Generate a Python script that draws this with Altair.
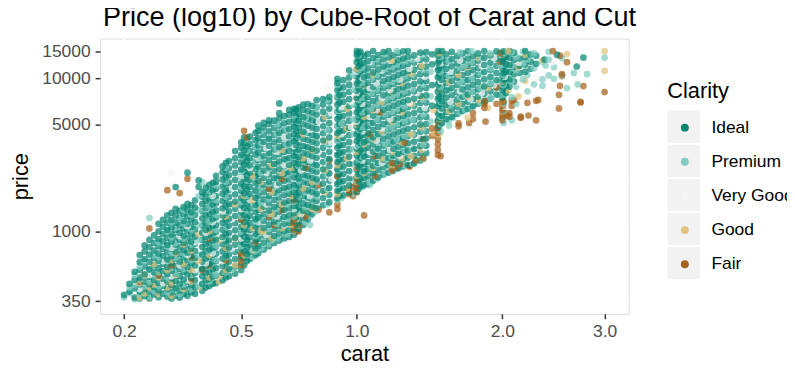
import altair as alt
import pandas as pd
import math

# ---------------- data (carat -> list of prices) ----------------
CUT_ORDER = ["Ideal", "Premium", "Very Good", "Good", "Fair"]
CUT_COLORS = ["#018571", "#80CDC1", "#F5F5F5", "#DFC27D", "#A6611A"]

X_BREAKS = [0.2, 0.5, 1.0, 2.0, 3.0]
Y_BREAKS = [350, 1000, 5000, 10000, 15000]

IDEAL = {
    0.20: [385],
    0.21: [405, 455],
    0.22: [370, 425, 485, 545],
    0.23: [365, 405, 450, 500, 560, 630, 700],
    0.24: [378, 420, 470, 525, 590, 660, 740, 810],
    0.25: [366, 405, 452, 505, 565, 632, 705, 790, 880],
    0.26: [388, 432, 482, 540, 600, 672, 750, 840, 940],
    0.27: [372, 412, 460, 515, 575, 642, 715, 800, 890, 1000, 1120],
    0.28: [392, 440, 490, 550, 615, 690, 770, 860, 960, 1070, 1190],
    0.29: [376, 420, 470, 526, 585, 655, 730, 815, 910, 1020, 1140, 1270],
    0.30: [365, 400, 445, 495, 555, 620, 690, 770, 860, 955, 1065, 1185, 1320],
    0.31: [380, 425, 475, 530, 590, 660, 735, 820, 915, 1020, 1140, 1270, 1400, 1945],
    0.32: [370, 410, 455, 510, 570, 635, 710, 790, 880, 980, 1095, 1220, 1360],
    0.33: [390, 435, 485, 545, 605, 675, 755, 840, 935, 1045, 1165, 1300, 1440],
    0.34: [380, 420, 470, 525, 585, 650, 725, 810, 900, 1005, 1120, 1250, 1390, 1510, 2415],
    0.35: [400, 445, 500, 555, 620, 690, 770, 860, 960, 1070, 1190, 1330, 1480],
    0.36: [392, 432, 480, 535, 600, 670, 745, 830, 925, 1030, 1150, 1280, 1430, 1590],
    0.37: [1950, 2150],
    0.38: [410, 455, 510, 570, 635, 705, 790, 880, 980, 1090, 1215, 1355, 1510, 1680, 1800],
    0.39: [430, 480, 535, 595, 665, 740, 825, 920, 1025, 1140, 1270, 1415, 1580, 1760, 1930],
    0.40: [440, 490, 545, 610, 680, 760, 845, 940, 1050, 1170, 1300, 1450, 1620, 1800, 2010],
    0.41: [455, 505, 565, 630, 700, 780, 870, 970, 1080, 1205, 1340, 1495, 1665, 1855, 2070],
    0.42: [460, 515, 575, 640, 715, 795, 885, 990, 1100, 1230, 1370, 1525, 1700, 1895, 2110, 2300],
    0.44: [480, 535, 595, 665, 740, 825, 920, 1025, 1140, 1270, 1415, 1580, 1760, 1960, 2180, 2430, 2650],
    0.45: [500, 555, 620, 690, 770, 860, 955, 1065, 1185, 1320, 1470, 1640, 1825, 2035, 2265, 2520, 2800],
    0.46: [510, 570, 635, 705, 785, 875, 975, 1090, 1210, 1350, 1505, 1675, 1865, 2080, 2320, 2580, 2870],
    0.48: [530, 590, 660, 735, 820, 910, 1015, 1130, 1260, 1405, 1565, 1745, 1945, 2165, 2410, 2690, 2995, 3340],
    0.50: [560, 625, 695, 775, 860, 960, 1070, 1190, 1330, 1480, 1650, 1835, 2045, 2280, 2540, 2830, 3150, 3510, 3800],
    0.51: [600, 670, 745, 830, 925, 1030, 1150, 1280, 1425, 1590, 1770, 1970, 2195, 2445, 2725, 3035, 3380, 3765, 4100],
    0.52: [640, 710, 790, 880, 980, 1095, 1220, 1360, 1515, 1685, 1880, 2095, 2330, 2600, 2895, 3225, 3590, 4000],
    0.53: [660, 735, 820, 915, 1020, 1135, 1265, 1410, 1570, 1750, 1950, 2170, 2420, 2695, 3000, 3345, 3725, 4150],
    0.55: [700, 780, 870, 965, 1075, 1200, 1335, 1490, 1660, 1850, 2060, 2295, 2555, 2850, 3175, 3535, 3940, 4390],
    0.56: [720, 800, 895, 995, 1110, 1235, 1380, 1535, 1710, 1905, 2125, 2365, 2635, 2935, 3270, 3645, 4060, 4520, 4900],
    0.58: [760, 845, 940, 1050, 1170, 1300, 1450, 1615, 1800, 2005, 2235, 2490, 2775, 3090, 3445, 3835, 4275, 4760, 5100],
    0.60: [800, 890, 990, 1105, 1230, 1370, 1525, 1700, 1895, 2110, 2350, 2620, 2920, 3250, 3620, 4035, 4495, 5010, 5300],
    0.62: [840, 935, 1040, 1160, 1295, 1440, 1605, 1790, 1995, 2220, 2475, 2755, 3070, 3420, 3810, 4245, 4730, 5270],
    0.64: [870, 970, 1080, 1205, 1340, 1495, 1665, 1855, 2065, 2300, 2565, 2855, 3180, 3545, 3950, 4400, 4900, 5460, 5900, 6830],
    0.66: [900, 1000, 1115, 1245, 1385, 1545, 1720, 1915, 2135, 2380, 2650, 2950, 3290, 3665, 4080, 4550, 5065, 5645],
    0.68: [920, 1025, 1140, 1270, 1415, 1580, 1760, 1960, 2180, 2430, 2710, 3015, 3360, 3745, 4170, 4650, 5180, 5770, 6200],
    0.70: [950, 1060, 1180, 1315, 1465, 1630, 1815, 2025, 2255, 2510, 2800, 3115, 3470, 3870, 4310, 4800, 5350, 5960, 6300],
    0.71: [1000, 1115, 1240, 1385, 1540, 1715, 1910, 2130, 2375, 2645, 2945, 3280, 3655, 4070, 4535, 5055, 5630, 6270],
    0.72: [1040, 1160, 1290, 1440, 1600, 1785, 1990, 2215, 2470, 2750, 3065, 3415, 3805, 4240, 4720, 5260, 5860, 6450],
    0.74: [1100, 1225, 1365, 1520, 1695, 1885, 2100, 2340, 2610, 2905, 3240, 3605, 4020, 4475, 4990, 5555, 6190, 6700],
    0.76: [1200, 1335, 1490, 1660, 1850, 2060, 2295, 2555, 2850, 3175, 3535, 3940, 4390, 4890, 5445, 6070, 6760],
    0.78: [1300, 1450, 1615, 1800, 2005, 2235, 2490, 2770, 3090, 3440, 3835, 4270, 4760, 5300, 5905, 6580],
    0.80: [1420, 1580, 1760, 1960, 2185, 2435, 2710, 3020, 3365, 3750, 4175, 4655, 5185, 5775, 6435, 7170],
    0.83: [1480, 1650, 1840, 2050, 2280, 2540, 2830, 3155, 3515, 3915, 4365, 4860, 5415, 6035, 6720, 7300],
    0.86: [1550, 1730, 1925, 2145, 2390, 2660, 2965, 3305, 3680, 4100, 4570, 5090, 5670, 6320, 7040, 7550],
    0.90: [1650, 1840, 2050, 2285, 2545, 2835, 3160, 3520, 3920, 4370, 4865, 5420, 6040, 6730, 7500, 8350, 9300, 9900],
    0.91: [1700, 1895, 2110, 2350, 2620, 2920, 3250, 3625, 4035, 4500, 5010, 5580, 6220, 6930, 7720, 8600],
    0.93: [1720, 1915, 2135, 2380, 2650, 2950, 3290, 3665, 4080, 4550, 5070, 5650, 6290, 7010, 7810, 8700, 9690],
    0.96: [1790, 1995, 2220, 2475, 2760, 3075, 3425, 3815, 4250, 4735, 5275, 5880, 6550, 7295, 8130, 9055, 10090, 11240],
    1.00: [1820, 2030, 2260, 2520, 2805, 3125, 3480, 3880, 4320, 4815, 5365, 5980, 6660, 7420, 8265, 9210, 10260, 11430, 12735, 14190, 15000],
    1.01: [1900, 2115, 2360, 2625, 2925, 3260, 3630, 4045, 4505, 5020, 5595, 6230, 6945, 7735, 8620, 9600, 10700, 11920, 13280, 14600],
    1.02: [1960, 2185, 2435, 2710, 3020, 3365, 3750, 4180, 4655, 5185, 5780, 6440, 7170, 7990, 8905, 9920, 11050, 12310, 13720, 14900],
    1.04: [2000, 2230, 2480, 2765, 3080, 3430, 3825, 4260, 4745, 5290, 5890, 6565, 7315, 8150, 9080, 10115, 11270, 12560, 13990],
    1.06: [2050, 2285, 2545, 2835, 3160, 3520, 3920, 4370, 4870, 5425, 6045, 6735, 7505, 8360, 9315, 10380, 11565, 12885, 14360],
    1.09: [2150, 2395, 2670, 2975, 3315, 3690, 4115, 4585, 5105, 5690, 6340, 7065, 7870, 8770, 9770, 10885, 12130, 13515, 15000],
    1.12: [2250, 2510, 2795, 3115, 3470, 3865, 4305, 4800, 5345, 5955, 6635, 7395, 8240, 9180, 10225, 11395, 12695, 14145],
    1.15: [2350, 2620, 2920, 3250, 3625, 4035, 4500, 5010, 5585, 6220, 6930, 7725, 8605, 9590, 10680, 11900, 13260, 14775],
    1.18: [2420, 2700, 3005, 3350, 3730, 4160, 4630, 5160, 5750, 6405, 7140, 7955, 8860, 9875, 11000, 12260, 13660, 15000],
    1.21: [2500, 2785, 3105, 3460, 3855, 4295, 4785, 5330, 5940, 6620, 7375, 8215, 9155, 10200, 11365, 12660, 14110],
    1.24: [2580, 2875, 3205, 3570, 3980, 4430, 4940, 5500, 6130, 6830, 7610, 8480, 9450, 10530, 11730, 13070, 14560],
    1.27: [2650, 2955, 3290, 3665, 4085, 4550, 5070, 5650, 6295, 7010, 7815, 8705, 9700, 10810, 12040, 13420, 14950],
    1.30: [2720, 3030, 3375, 3760, 4190, 4670, 5200, 5795, 6455, 7195, 8015, 8930, 9950, 11085, 12350, 13760, 15000],
    1.34: [2780, 3100, 3450, 3845, 4285, 4775, 5320, 5925, 6605, 7355, 8200, 9135, 10175, 11340, 12635, 14075],
    1.38: [2900, 3230, 3600, 4010, 4470, 4980, 5545, 6180, 6885, 7670, 8545, 9520, 10610, 11820, 13170, 14670],
    1.42: [3250, 3620, 4035, 4495, 5010, 5580, 6220, 6930, 7720, 8600, 9580, 10675, 11895, 13250, 14760],
    1.46: [6600, 9000, 12300, 14300],
    1.50: [4750, 5290, 5895, 6570, 7320, 8155, 9085, 10125, 11280, 12565, 14000, 15000],
    1.51: [4900, 5460, 6085, 6780, 7555, 8415, 9375, 10445, 11640, 12965, 14450],
    1.53: [5100, 5680, 6330, 7050, 7855, 8750, 9750, 10865, 12105, 13485, 15000],
    1.56: [5400, 6015, 6700, 7465, 8320, 9270, 10325, 11505, 12815, 14280],
    1.60: [5600, 6240, 6950, 7745, 8625, 9610, 10710, 11930, 13290, 14810],
    1.64: [5850, 6515, 7260, 8090, 9010, 10040, 11185, 12460, 13885],
    1.68: [6100, 6795, 7570, 8435, 9395, 10470, 11665, 12995, 14480],
    1.72: [6300, 7020, 7820, 8710, 9705, 10815, 12045, 13420, 14950],
    1.76: [6550, 7300, 8130, 9060, 10090, 11245, 12525, 13955],
    1.80: [6800, 7575, 8440, 9405, 10475, 11670, 13005, 14490],
    1.85: [7100, 7910, 8815, 9820, 10940, 12185, 13580, 15000],
    1.90: [7350, 8190, 9125, 10165, 11325, 12615, 14055],
    1.95: [7800, 8690, 9680, 10785, 12015, 13385, 14910],
    2.00: [7500, 8355, 9310, 10370, 11555, 12870, 14340],
    2.01: [7000, 7800, 8690, 9680, 10785, 12015, 13385, 14910],
    2.03: [8000, 8915, 9930, 11065, 12325, 13730],
    2.06: [8800, 9800, 10920, 12170, 13555, 15000],
    2.10: [9500, 10585, 11790, 13135, 14635],
    2.15: [10800, 12030, 13400],
    2.20: [11000, 12250, 13650, 15000],
    2.25: [11500, 12800, 14260],
    2.30: [12400, 14000],
    2.38: [13200],
    2.50: [14200],
    2.70: [11900],
    2.77: [13600],
}

PREMIUM = {
    0.20: [372], 0.21: [395, 430], 0.22: [360, 450, 520], 0.23: [390, 480, 590],
    0.24: [440, 640], 0.25: [372, 470, 560, 1220], 0.26: [410, 520, 700],
    0.27: [440, 540, 680, 850], 0.29: [400, 500, 640, 800, 1000],
    0.30: [460, 580, 730, 920, 1150], 0.31: [420, 530, 670, 840, 1060],
    0.32: [390, 1230], 0.33: [450, 570, 720, 900, 1130, 1380],
    0.35: [420, 520, 650, 820, 1030, 1290], 0.37: [440, 560, 700, 880, 1100, 1380, 1700],
    0.38: [2100], 0.40: [470, 590, 740, 930, 1170, 1460, 1830],
    0.42: [520, 650, 810, 1020, 1280, 1600, 2000],
    0.45: [540, 680, 850, 1070, 1340, 1680, 2100, 2600], 0.47: [560, 760, 1500],
    0.50: [640, 800, 1000, 1250, 1560, 1960, 2450, 3070],
    0.52: [700, 870, 1090, 1370, 1710, 2140, 2680, 3350, 4000], 0.54: [680, 760],
    0.55: [740, 930, 1160, 1450, 1820, 2280, 2850, 3570],
    0.57: [780, 980, 1230, 1540, 1930, 2410, 3020, 3780, 4500],
    0.60: [830, 1040, 1300, 1630, 2040, 2550, 3190, 3990], 0.61: [870],
    0.63: [900, 1120, 1400, 1760, 2200, 2750, 3440, 4300, 5000],
    0.67: [960, 1200, 1500, 1880, 2350, 2940, 3680, 4600],
    0.70: [1000, 1250, 1560, 1950, 2440, 3060, 3830, 4790, 5700],
    0.72: [1090, 1360, 1700, 2130, 2660, 3330, 4170, 5200],
    0.75: [1150, 1440, 1800, 2250, 2820, 3530, 4410, 5520], 0.77: [1100, 1250],
    0.80: [1350, 1690, 2110, 2640, 3300, 4130, 5170, 6470],
    0.85: [1500, 1880, 2350, 2940, 3680, 4600, 5760, 7200],
    0.90: [1600, 2000, 2500, 3130, 3920, 4900, 6130, 7670, 9000],
    0.92: [1650, 2070, 2590, 3240, 4050, 5070, 6340],
    0.98: [1750, 2190, 2740, 3430, 4290, 5370, 6720, 8400, 10500],
    1.01: [1880, 2350, 2940, 3680, 4600, 5760, 7200, 9000, 11300, 14100],
    1.03: [1950, 2440, 3050, 3820, 4780, 5980, 7480, 9360, 11700], 1.07: [2000, 2080],
    1.08: [2080, 2600, 3250, 4070, 5090, 6370, 7970, 9970, 12470],
    1.11: [2200, 2750, 3440, 4300, 5380, 6730, 8420, 10530, 13200],
    1.16: [2380, 2980, 3730, 4660, 5830, 7300, 9130, 11420, 14290],
    1.20: [2460, 3080, 3850, 4820, 6030, 7540, 9440, 11800],
    1.23: [2560, 3200, 4000, 5010, 6270, 7840, 9810, 12270, 15000],
    1.28: [2680, 3350, 4190, 5250, 6560, 8210, 10270, 12850],
    1.33: [2750, 3440, 4300, 5380, 6730, 8420, 10540, 13180],
    1.40: [2950, 3700, 4620, 5780, 7230, 9050, 11320, 14160],
    1.45: [5200, 7600, 11000], 1.52: [4500, 5000, 5600, 7000, 8750, 10950, 13700],
    1.58: [4900, 5300, 6630, 8300, 10380, 12990], 1.61: [5500],
    1.66: [6000, 7500, 9400, 11760, 14700], 1.70: [6200, 7760, 9700, 12140],
    1.75: [6500, 8130, 10170, 12730, 15000], 1.82: [6900, 8630, 10800, 13510],
    1.90: [7400, 9260, 11590, 14500], 1.98: [7700, 9640, 12060],
    2.01: [5100, 5500, 6100, 6800, 7800, 9000, 10500, 12300, 14600],
    2.08: [5300, 7500, 9500, 12000, 14800], 2.12: [6800, 8800, 11200, 13800],
    2.18: [9800, 12500, 14900], 2.22: [8200, 10500, 13300], 2.28: [9100, 11600, 14500],
    2.36: [8900, 9800, 12800], 2.39: [12100], 2.42: [10400, 13200, 14800],
    2.47: [9900, 11800], 2.55: [10400, 13500], 2.60: [8600], 2.67: [10800],
    2.71: [9100], 2.81: [10600], 3.00: [13600],
}

VERY_GOOD = {
    0.23: [420], 0.25: [520], 0.28: [460, 640], 0.30: [510, 780, 2415], 0.32: [600, 930],
    0.34: [480, 700, 1080], 0.36: [560, 850], 0.39: [620, 980, 1400], 0.41: [720, 1150, 1700],
    0.44: [640, 900, 1350], 0.47: [780, 1200, 1900], 0.50: [900, 1400, 2300],
    0.53: [1000, 1600, 2600], 0.56: [1150, 1900, 3000], 0.59: [950, 1500, 2400, 3500],
    0.63: [1250, 2000, 3300], 0.66: [1100, 1700, 2700, 4100], 0.70: [1400, 2200, 3600],
    0.73: [1300, 2500, 4000], 0.77: [1700, 2900, 4600], 0.81: [2000, 3300, 5200],
    0.85: [8400], 0.87: [2200, 3800, 5900], 0.92: [2600, 4300, 6500], 0.97: [2400, 4800, 7000],
    1.00: [2600, 3600, 5200, 8000, 11000], 1.03: [2900, 4500, 6800, 10000],
    1.07: [3300, 5600, 8600, 12800], 1.11: [3900, 6200, 9200], 1.14: [2800, 4700, 7400, 11200],
    1.19: [3400, 5400, 8400, 13000], 1.25: [3100, 6000, 9800], 1.31: [3700, 6900, 11500],
    1.36: [4200, 8000, 13400], 1.41: [3500, 6400, 10200], 1.52: [6200, 9500, 12500],
    1.59: [7000, 11000], 1.66: [8200, 13000], 1.74: [4800, 7300, 10800], 1.83: [8000, 12000],
    1.93: [9000, 13500], 2.02: [6500, 10200], 2.14: [9400, 12600], 2.30: [10000], 2.45: [12600],
}

GOOD = {
    0.23: [370, 460], 0.24: [395, 520], 0.25: [365, 430], 0.26: [450, 610], 0.27: [390, 500],
    0.29: [430, 560], 0.30: [380, 470, 650], 0.31: [520, 720], 0.33: [420, 610, 820],
    0.35: [470, 560, 750], 0.37: [430, 640, 960], 0.40: [500, 700, 1000], 0.43: [470, 510, 880],
    0.45: [560, 780, 1250], 0.48: [600, 900, 1500], 0.51: [700, 1100, 1700],
    0.54: [750, 1050, 1600, 2300], 0.57: [1000, 1400, 2100], 0.58: [1000],
    0.61: [900, 1300, 1800, 2700], 0.65: [1050, 1500, 2400, 3400], 0.69: [1100, 1700, 2600],
    0.71: [1200, 1300], 0.74: [1350, 1900, 3000, 4300], 0.78: [1400, 2100, 3400], 0.80: [1400],
    0.84: [1800, 2500, 3900, 5600], 0.90: [1750, 2700, 4200], 0.95: [1900, 3000, 4700, 6300],
    1.00: [2100, 2300, 3300, 5000, 7400, 11500], 1.04: [2400, 3700, 5600, 9000],
    1.09: [2600, 4000, 6200, 10500], 1.14: [3000, 4500, 7000], 1.20: [2700, 3300, 5200, 8200, 13000],
    1.26: [3000, 3800, 6000, 9300], 1.32: [3100, 4300, 6800, 10700], 1.39: [3400, 4800, 7500, 12000],
    1.47: [4400, 6200], 1.51: [4300, 5400, 8400, 14500], 1.58: [6100, 9400], 1.65: [6800, 10500],
    1.72: [5500, 7600, 11800], 1.80: [7200, 13500], 1.88: [6400, 8600], 2.00: [6000, 7000, 9500, 14200],
    2.05: [8300, 15000], 2.14: [7600, 11800], 2.20: [9600, 14200], 2.36: [13100], 2.60: [14350],
    3.00: [15000, 11150],
}

FAIR = {
    0.23: [470], 0.25: [1045], 0.27: [520], 0.29: [1856], 0.30: [455, 600], 0.32: [1776],
    0.34: [2200], 0.35: [490, 680], 0.38: [560], 0.40: [600, 900], 0.45: [650],
    0.50: [600, 640, 680, 720, 1200], 0.51: [4530], 0.52: [4100], 0.55: [850], 0.60: [1250, 1900],
    0.62: [1100], 0.65: [1380, 2200], 0.70: [990, 1030, 1080, 1140, 1200, 1600], 0.72: [1000, 1100],
    0.75: [1250, 2600], 0.81: [1390, 2000], 0.86: [1330, 2900], 0.90: [1400, 1500, 2300],
    0.96: [1750, 1850], 0.98: [1950, 1700], 1.00: [1800, 1900, 2000, 2050, 2200, 2600], 1.04: [1270],
    1.07: [4300], 1.10: [2300, 3100], 1.13: [6000], 1.20: [2500, 2800], 1.22: [2600], 1.25: [2750],
    1.28: [3800], 1.31: [2650, 2680], 1.35: [2900], 1.40: [3000, 4000], 1.46: [4700, 4200],
    1.50: [3150, 3400, 3700, 4000, 4400, 4800, 5200], 1.52: [3100], 1.65: [4850, 5070], 1.73: [5100],
    1.76: [5400, 5900], 1.85: [6400, 6900, 6800], 1.86: [5200, 7100], 1.95: [6800, 8700],
    1.98: [12800, 14600], 2.00: [5300, 5500, 5800, 6200, 6600, 7000, 7400], 2.01: [6000, 6400],
    2.04: [5700], 2.06: [5600, 5900], 2.08: [6600, 7100], 2.10: [7200], 2.16: [5500, 5600],
    2.22: [6900], 2.23: [5700], 2.30: [7100, 5300], 2.32: [7200], 2.46: [15000],
    2.52: [6340, 7770], 2.53: [8900, 14000], 2.55: [10300, 10600], 2.60: [12700],
    2.74: [6930, 7000], 2.77: [8870], 3.00: [8110],
}

# ---------------- build table ----------------
rows = []
for cut, table in zip(CUT_ORDER, [IDEAL, PREMIUM, VERY_GOOD, GOOD, FAIR]):
    for carat, prices in table.items():
        for p in prices:
            rows.append({"carat": carat, "price": p, "cut": cut})
df = pd.DataFrame(rows).sort_values("price", kind="stable").reset_index(drop=True)

# ggplot-like limits with 5% expansion in transformed space
cx = [min(X_BREAKS) ** (1 / 3), max(X_BREAKS) ** (1 / 3)]
ex = (cx[1] - cx[0]) * 0.05
x_dom = [(cx[0] - ex) ** 3, (cx[1] + ex) ** 3]
ly = [math.log10(min(Y_BREAKS)), math.log10(max(Y_BREAKS))]
ey = (ly[1] - ly[0]) * 0.05
y_dom = [10 ** (ly[0] - ey), 10 ** (ly[1] + ey)]

x_minor = [((a ** (1 / 3) + b ** (1 / 3)) / 2) ** 3 for a, b in zip(X_BREAKS[:-1], X_BREAKS[1:])]
y_minor = [10 ** ((math.log10(a) + math.log10(b)) / 2) for a, b in zip(Y_BREAKS[:-1], Y_BREAKS[1:])]
x_vals = sorted(X_BREAKS + x_minor)
y_vals = sorted(Y_BREAKS + y_minor)

x_test = "indexof([%s], datum.value) >= 0" % ",".join(str(v) for v in X_BREAKS)
y_test = "indexof([%s], datum.value) >= 0" % ",".join(str(v) for v in Y_BREAKS)

FONT = "Liberation Sans"

x_axis = alt.Axis(
    values=x_vals, title="carat", domain=False,
    grid=True, gridColor="white", gridOpacity=1,
    gridWidth={"condition": {"test": x_test, "value": 2.0}, "value": 1.1},
    ticks=True, tickColor="#333333", tickSize=5, tickWidth=1.5,
    tickOpacity={"condition": {"test": x_test, "value": 1}, "value": 0},
    labelExpr=x_test + " ? format(datum.value, '.1f') : ''",
    labelFont=FONT, labelFontSize=17.6, labelColor="#4D4D4D", labelPadding=4,
    labelBaseline="top", labelOverlap=False, labelFlush=False,
    titleFont=FONT, titleFontSize=22, titleColor="black", titleFontWeight="normal",
    titleBaseline="alphabetic", titleAlign="center", titleX=267, titleY=47,
)
y_axis = alt.Axis(
    values=y_vals, title="price", domain=False,
    grid=True, gridColor="white", gridOpacity=1,
    gridWidth={"condition": {"test": y_test, "value": 2.0}, "value": 1.1},
    ticks=True, tickColor="#333333", tickSize=5, tickWidth=1.5,
    tickOpacity={"condition": {"test": y_test, "value": 1}, "value": 0},
    labelExpr=y_test + " ? format(datum.value, 'd') : ''",
    labelFont=FONT, labelFontSize=17.6, labelColor="#4D4D4D", labelPadding=5,
    labelOverlap=False, labelFlush=False,
    titleFont=FONT, titleFontSize=22, titleColor="black", titleFontWeight="normal",
    titleAngle=270, titleBaseline="alphabetic", titleAlign="center", titleX=-73, titleY=139,
)

x_enc = alt.X("carat:Q", scale=alt.Scale(type="pow", exponent=1 / 3, domain=x_dom, nice=False, zero=False), axis=x_axis)
y_enc = alt.Y("price:Q", scale=alt.Scale(type="log", domain=y_dom, nice=False), axis=y_axis)

LEG_X = 573
LEG_Y = 43

keys = alt.Chart(df).transform_filter("false").mark_point(
    filled=True, color="#F2F2F2", opacity=1
).encode(
    x=x_enc, y=y_enc,
    shape=alt.Shape(
        "key:N",
        scale=alt.Scale(domain=["k1", "k2", "k3", "k4", "k5"], range=["square"] * 5),
        legend=alt.Legend(
            orient="none", legendX=LEG_X, legendY=LEG_Y, padding=0, zindex=0,
            title="Clarity", titleFont=FONT, titleFontSize=22, titleColor="black",
            titleFontWeight="normal", titlePadding=7.5,
            symbolSize=1089, symbolStrokeWidth=0, symbolFillColor="#F2F2F2", symbolOpacity=1,
            labelExpr="''", clipHeight=33, rowPadding=1.5,
        ),
    ),
)

points = alt.Chart(df).mark_circle(size=46, opacity=0.72).encode(
    x=x_enc, y=y_enc,
    color=alt.Color(
        "cut:N",
        scale=alt.Scale(domain=CUT_ORDER, range=CUT_COLORS),
        sort=CUT_ORDER,
        legend=alt.Legend(
            orient="none", legendX=LEG_X + 9, legendY=LEG_Y + 1, padding=0, zindex=1,
            title=" ", titleFont=FONT, titleFontSize=22, titleOpacity=0,
            titleFontWeight="normal", titlePadding=7.5,
            symbolType="circle", symbolSize=64, symbolStrokeWidth=0, symbolOpacity=1,
            labelFont=FONT, labelFontSize=17.6, labelColor="black", labelOffset=18,
            clipHeight=33, rowPadding=1.5,
        ),
    ),
)

chart = alt.layer(keys, points).properties(
    width=534, height=278,
    padding={"left": 93, "top": 29, "right": 160, "bottom": 60},
    autosize=alt.AutoSizeParams(type="none"),
    title=alt.TitleParams(
        "Price (log10) by Cube-Root of Carat and Cut", anchor="start", frame="group",
        font=FONT, fontSize=27.3, fontWeight="normal", color="black",
        baseline="alphabetic", offset=11, dy=26, dx=3,
    ),
).configure_view(fill="#EBEBEB", stroke=None).configure(font=FONT)

chart.save("out.html", embed_options={"renderer": "svg", "actions": False})
